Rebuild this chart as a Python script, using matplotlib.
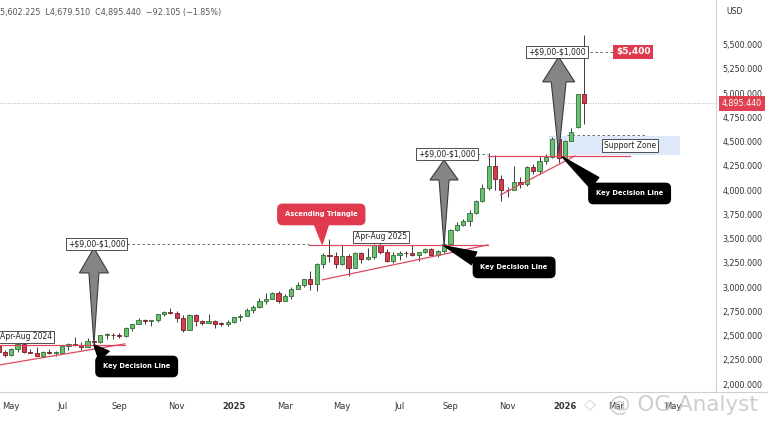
import numpy as np
import pandas as pd
import matplotlib
matplotlib.use("Agg")
import matplotlib.pyplot as plt
import matplotlib.dates as mdates
from matplotlib.patches import Polygon, Rectangle
from matplotlib.lines import Line2D

# weekly gold candles, Apr 2024 - Jan 2026
weeks = pd.date_range("2024-04-22", "2026-01-26", freq="W-MON")
opens = [2391, 2337, 2301, 2360, 2415, 2334, 2327, 2293, 2333, 2322,
         2326, 2392, 2411, 2400, 2387, 2443, 2431, 2507, 2512, 2503,
         2497, 2578, 2622, 2658, 2653, 2657, 2721, 2747, 2736, 2685,
         2563, 2716, 2650, 2633, 2648, 2622, 2621, 2640, 2690, 2702,
         2770, 2800, 2861, 2882, 2936, 2858, 2910, 2984, 3023, 3084,
         3037, 3237, 3327, 3319, 3240, 3325, 3202, 3357, 3289, 3310,
         3432, 3368, 3274, 3337, 3355, 3350, 3337, 3363, 3398, 3336,
         3371, 3448, 3586, 3643, 3685, 3760, 3886, 4018, 4252, 4113,
         4002, 4000, 4085, 4065, 4240, 4198, 4300, 4338, 4530, 4332,
         4510, 4650, 4988]
highs = [2396, 2353, 2378, 2422, 2450, 2364, 2388, 2342, 2368, 2339,
         2392, 2424, 2483, 2433, 2477, 2447, 2509, 2531, 2525, 2529,
         2586, 2625, 2685, 2672, 2665, 2722, 2758, 2790, 2750, 2710,
         2721, 2722, 2657, 2726, 2664, 2639, 2665, 2697, 2726, 2786,
         2817, 2886, 2942, 2954, 2956, 2930, 3005, 3057, 3086, 3167,
         3245, 3357, 3500, 3368, 3437, 3345, 3366, 3365, 3403, 3446,
         3452, 3398, 3365, 3375, 3375, 3439, 3363, 3409, 3404, 3379,
         3453, 3600, 3674, 3707, 3791, 3897, 4059, 4381, 4359, 4160,
         4028, 4245, 4132, 4245, 4265, 4353, 4375, 4550, 4550, 4518,
         4643, 4990, 5602]
lows = [2291, 2277, 2292, 2332, 2325, 2323, 2287, 2287, 2316, 2294,
        2318, 2352, 2394, 2353, 2381, 2364, 2425, 2470, 2471, 2472,
        2485, 2547, 2616, 2624, 2604, 2643, 2708, 2725, 2643, 2536,
        2560, 2605, 2613, 2632, 2583, 2605, 2596, 2634, 2656, 2700,
        2730, 2790, 2832, 2877, 2833, 2855, 2880, 2981, 3000, 2971,
        2957, 3194, 3260, 3202, 3230, 3120, 3200, 3245, 3278, 3294,
        3340, 3255, 3248, 3283, 3309, 3324, 3268, 3348, 3331, 3311,
        3351, 3436, 3578, 3627, 3628, 3755, 3880, 4000, 4004, 3887,
        3931, 3997, 4022, 4040, 4170, 4165, 4271, 4330, 4275, 4310,
        4505, 4640, 4680]
closes = [2337, 2301, 2360, 2415, 2334, 2327, 2293, 2333, 2322, 2326,
          2392, 2411, 2400, 2387, 2443, 2431, 2507, 2512, 2503, 2497,
          2578, 2622, 2658, 2653, 2657, 2721, 2747, 2736, 2685, 2563,
          2716, 2650, 2633, 2648, 2622, 2621, 2640, 2690, 2702, 2770,
          2800, 2861, 2882, 2936, 2858, 2910, 2984, 3023, 3084, 3037,
          3237, 3327, 3319, 3240, 3325, 3202, 3357, 3289, 3310, 3432,
          3368, 3274, 3337, 3355, 3350, 3337, 3363, 3398, 3336, 3371,
          3448, 3586, 3643, 3685, 3760, 3886, 4018, 4252, 4113, 4002,
          4000, 4085, 4065, 4240, 4198, 4300, 4338, 4530, 4332, 4510,
          4596, 4988, 4895.44]

last_price = 4895.44
price_ticks = list(range(2000, 5501, 250))
month_ticks = ["2024-05-06", "2024-07-01", "2024-09-02", "2024-11-04", "2025-01-06",
               "2025-03-03", "2025-05-05", "2025-07-07", "2025-09-01", "2025-11-03",
               "2026-01-05", "2026-03-02", "2026-05-04"]
month_labels = ["May", "Jul", "Sep", "Nov", "2025", "Mar", "May", "Jul", "Sep", "Nov",
                "2026", "Mar", "May"]
target_text = r"+\$9,00-\$1,000"


def d(s):
    return mdates.date2num(pd.Timestamp(s))


fig = plt.figure(figsize=(7.68, 4.32), dpi=100)
ax = fig.add_axes([0, 40 / 432, 716 / 768, 392 / 432])
ax.set_xlim(d("2024-04-23 17:00"), d("2026-06-20"))
ax.set_ylim(1920, 5960)

x = mdates.date2num(weeks)
o = np.array(opens, float)
h = np.array(highs, float)
l = np.array(lows, float)
c = np.array(closes, float)
up = c >= o
lo = np.minimum(o, c)
hgt = np.maximum(np.abs(c - o), 6)

ax.vlines(x, l, h, color="#3a3a3a", lw=0.7, zorder=3)
ax.bar(x[up], hgt[up], bottom=lo[up], width=4.6, color="#6cbf70", edgecolor="#2f6f33",
       lw=0.6, zorder=4)
ax.bar(x[~up], hgt[~up], bottom=lo[~up], width=4.6, color="#d43d4f", edgecolor="#7a1a22",
       lw=0.6, zorder=4)

# current price line
ax.axhline(last_price, color="#9a9a9a", lw=0.6, ls=(0, (1, 2)), zorder=1)

# support zone
ax.add_patch(Rectangle((d("2025-12-18"), 4363), d("2026-05-11") - d("2025-12-18"), 196,
                       fc="#dde9f8", ec="none", zorder=1))
ax.plot([d("2026-01-07"), d("2026-04-05")], [4569, 4569], color="#555", lw=0.6,
        ls=(0, (3, 3)), zorder=2)

# triangle lines
red = "#dc4a60"
tri = [
    (("2024-04-10", 2406), ("2024-09-08", 2406)),
    (("2024-04-24", 2200), ("2024-09-08", 2416)),
    (("2025-03-30", 3436), ("2025-10-12", 3436)),
    (("2025-04-13", 3076), ("2025-10-12", 3436)),
    (("2025-10-12", 4353), ("2026-03-17", 4353)),
    (("2025-10-26", 3951), ("2026-01-16", 4353)),
]
for (d0, p0), (d1, p1) in tri:
    ax.plot([d(d0), d(d1)], [p0, p1], color=red, lw=0.9, zorder=5)

# dashed target lines
for d0, d1, p in [("2024-09-10", "2025-03-30", 3446), ("2025-09-30", "2025-10-12", 4370),
                  ("2026-02-01", "2026-02-27", 5425)]:
    ax.plot([d(d0), d(d1)], [p, p], color="#555", lw=0.6, ls=(0, (3, 3)), zorder=2)


def big_arrow(date, base, neck, apex, shaft_hw, head_hw):
    x0 = d(date)
    pts = [(x0, base), (x0 - shaft_hw, neck), (x0 - head_hw, neck), (x0, apex),
           (x0 + head_hw, neck), (x0 + shaft_hw, neck)]
    ax.add_patch(Polygon(pts, closed=True, fc="#858585", ec="#3c3c3c", lw=0.8, zorder=6))


big_arrow("2024-08-05", 2415, 3147, 3405, 5.5, 16)
big_arrow("2025-08-25", 3426, 4105, 4311, 5.5, 15.5)
big_arrow("2025-12-29", 4380, 5116, 5374, 8.2, 17.6)

box_kw = dict(boxstyle="square,pad=0.25", fc="white", ec="#333", lw=0.6)
for txt, dt, p in [(target_text, "2024-08-08", 3446), (target_text, "2025-08-28", 4373),
                   (target_text, "2025-12-27", 5425), ("Apr-Aug 2024", "2024-05-22", 2487),
                   ("Apr-Aug 2025", "2025-06-17", 3518), ("Support Zone", "2026-03-17", 4457)]:
    ax.text(d(dt), p, txt, fontsize=5.5, color="#222", ha="center", va="center",
            bbox=box_kw, zorder=8)

ax.text(d("2026-03-21"), 5425, r"\$5,400", fontsize=6.5, fontweight="bold", color="white",
        ha="center", va="center", zorder=8,
        bbox=dict(boxstyle="square,pad=0.3", fc="#e03a4e", ec="none"))


def callout(txt, center, tip, fc, relpos):
    ax.annotate(txt, xy=(d(tip[0]), tip[1]), xytext=(d(center[0]), center[1]),
                ha="center", va="center", fontsize=4.9, fontweight="bold", color="white",
                bbox=dict(boxstyle="round,pad=1.05,rounding_size=0.7", fc=fc, ec=fc),
                arrowprops=dict(arrowstyle="wedge,tail_width=2.0,shrink_factor=0.5",
                                fc=fc, ec=fc, relpos=relpos, shrinkA=0, shrinkB=0),
                zorder=9)


callout("Key Decision Line", ("2024-09-21", 2183), ("2024-08-05", 2406), "black", (0.12, 1.0))
callout("Key Decision Line", ("2025-11-10", 3204), ("2025-08-25", 3426), "black", (0.12, 1.0))
callout("Key Decision Line", ("2026-03-17", 3966), ("2026-01-02", 4343), "black", (0.12, 1.0))
callout("Ascending Triangle", ("2025-04-12", 3750), ("2025-04-13", 3446), "#e03a4e", (0.5, 0.0))

# axes styling
for s in ["top", "left"]:
    ax.spines[s].set_visible(False)
ax.spines["right"].set_color("#cfcfcf")
ax.spines["bottom"].set_color("#cfcfcf")
ax.spines["right"].set_linewidth(0.8)
ax.spines["bottom"].set_linewidth(0.8)
ax.yaxis.tick_right()
ax.set_yticks(price_ticks)
ax.set_yticklabels([f"{v:,.3f}" for v in price_ticks])
ax.tick_params(axis="y", length=0, pad=4.5, labelsize=5.8, labelcolor="#333")
ax.set_xticks([d(m) for m in month_ticks])
ax.set_xticklabels(month_labels)
ax.tick_params(axis="x", length=0, pad=7, labelsize=6, labelcolor="#333")
for lab in ax.get_xticklabels():
    if lab.get_text() in ("2025", "2026"):
        lab.set_fontweight("bold")

fig.add_artist(Line2D([716 / 768, 1], [40 / 432, 40 / 432], color="#cfcfcf", lw=0.8))

# header, currency, last price tag
fig.text(0.0, 1 - 12 / 432, "5,602.225  L4,679.510  C4,895.440  \u221292.105 (\u22121.85%)",
         fontsize=5.8, color="#555", ha="left", va="center")
fig.text(726 / 768, 1 - 12 / 432, "USD", fontsize=5.6, color="#333", ha="left", va="center")
fig.text(742 / 768, 1 - 103.4 / 432, "4,895.440", fontsize=5.8, color="white", ha="center",
         va="center", bbox=dict(boxstyle="square,pad=0.35", fc="#e04050", ec="none"))

# watermark (sits over the date axis, as in the original)
fig.text(683 / 768, 1 - 405 / 432, "@ OG Analyst", fontsize=15.5, color="#bdbdbd",
         alpha=0.75, ha="center", va="center")
fig.text(590 / 768, 1 - 405 / 432, "\u25c7", fontsize=11, color="#bdbdbd", alpha=0.75,
         ha="center", va="center")

fig.savefig("out.png", dpi=100, facecolor="white")
